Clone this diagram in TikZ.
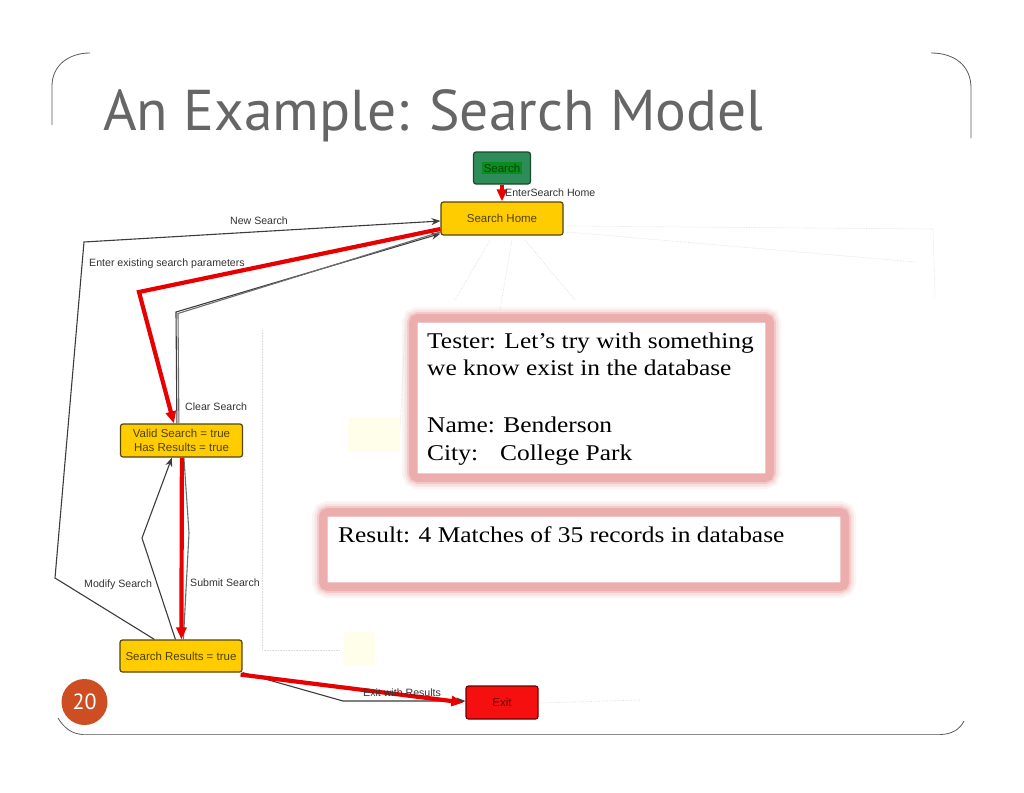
\documentclass[tikz,border=0pt]{standalone}
\usepackage{fontspec}
\newfontfamily\arialf{Liberation Sans}
\newfontfamily\titlef{PT Sans}
\newfontfamily\bookf[FakeStretch=1.13]{Liberation Serif}
\usetikzlibrary{arrows.meta}
\definecolor{gold}{RGB}{255,204,0}
\definecolor{goldborder}{RGB}{85,68,10}
\definecolor{goldtext}{RGB}{80,65,15}
\definecolor{exitred}{RGB}{245,15,15}
\definecolor{exitborder}{RGB}{110,0,0}
\definecolor{exittext}{RGB}{110,0,0}
\definecolor{seagreen}{RGB}{46,140,88}
\definecolor{greenborder}{RGB}{25,75,45}
\definecolor{hlgreen}{RGB}{10,140,30}
\definecolor{greentext}{RGB}{0,70,10}
\definecolor{arrowred}{RGB}{232,0,0}
\definecolor{linegrey}{RGB}{60,60,60}
\definecolor{titlegrey}{RGB}{102,102,102}
\definecolor{pageorange}{RGB}{205,78,35}
\definecolor{glowred}{RGB}{225,120,120}
\definecolor{framec}{RGB}{90,90,90}
\definecolor{ghost}{RGB}{220,220,220}
\tikzset{
  state/.style={draw=goldborder, fill=gold, rounded corners=2.5pt, line width=1.2pt,
    minimum width=122pt, minimum height=33pt, inner sep=0pt, align=center,
    font=\arialf\fontsize{11.5}{14.5}\selectfont, text=goldtext},
  redarrow/.style={draw=arrowred, line width=4.2pt, -{Triangle[length=12pt,width=10pt]}},
  thinarrow/.style={draw=linegrey, line width=1.1pt, -{Stealth[length=9pt,width=7pt]}},
  thinline/.style={draw=linegrey!75, line width=1.1pt},
  elabel/.style={font=\arialf\fontsize{10.6}{12}\selectfont, text=black!80, inner sep=0pt},
  boxtext/.style={font=\bookf\fontsize{22.5}{27}\selectfont, text=black, inner sep=0pt, anchor=base west},
  ghostline/.style={draw=ghost, line width=0.6pt, densely dotted},
}
\begin{document}
\begin{tikzpicture}[x=1pt,y=-1pt]
\useasboundingbox (0,0) rectangle (1024,792);
\fill[white] (0,0) rectangle (1024,792);

% faint background ghost diagram
\draw[ghostline] (567,226) -- (933,229) -- (935,297);
\draw[ghostline] (567,232) -- (915,262);
\draw[ghostline] (262,330) -- (262,650) -- (340,650);
\draw[ghostline] (490,240) -- (455,300);
\draw[ghostline] (512,240) -- (500,310);
\draw[ghostline] (525,240) -- (575,300);
\draw[ghostline] (400,430) -- (405,330);
\fill[yellow!8] (348,418) rectangle (400,452);
\fill[yellow!8] (344,632) rectangle (375,665);
\draw[ghostline] (540,703) -- (640,700);

% frame
\draw[framec, line width=0.8pt] (52,125) -- (52,86) .. controls (52,66) and (68,53) .. (90,53);
\draw[framec, line width=0.8pt] (931,53) .. controls (955,53) and (971,66) .. (971,88) -- (971,138);
\draw[black!45, line width=1.6pt] (83,734.5) -- (940,734.5);
\draw[framec, line width=0.8pt] (58,718) .. controls (64,728) and (72,734) .. (83,734.5);
\draw[framec, line width=0.8pt] (940,734.5) .. controls (952,734.5) and (960,729) .. (964,721);

% title
\node[anchor=base west, inner sep=0pt, font=\titlef\fontsize{57.5}{60}\selectfont, text=titlegrey] (title) at (103,130) {An Example: Search Model};

% state nodes
\node[state, fill=seagreen, draw=greenborder, minimum width=57pt, minimum height=32pt] (search) at (502,168) {};
\node[fill=hlgreen, inner sep=1.5pt, text=greentext, font=\arialf\fontsize{11.5}{13}\selectfont] (searchlbl) at (search) {Search};
\node[state] (home) at (502,218.5) {Search Home};
\node[state] (valid) at (181.5,440.5) {Valid Search = true\\Has Results = true};
\node[state, minimum height=32pt] (results) at (181,656) {Search Results = true};
\node[state, fill=exitred, draw=exitborder, text=exittext, minimum width=72pt] (exit) at (502,702.5) {Exit};

% waypoints
\coordinate (nsA) at (55,578);
\coordinate (nsB) at (84,242);
\coordinate (enA) at (139,292);
\coordinate (clA) at (176,312);
\coordinate (moA) at (142,538);
\coordinate (suA) at (189,533);
\coordinate (exA) at (343,701);

% thin grey/black connectors
\draw[thinarrow] ([xshift=35pt]results.north west) -- (nsA) -- (nsB) -- ([yshift=-2.5pt]home.west);
\draw[thinarrow] ([xshift=57pt]valid.north west) -- (clA) -- ([yshift=2pt]home.south west);
\draw[thinline] ([xshift=59pt]valid.north west) -- ([xshift=2pt,yshift=-1.5pt]clA) -- ([xshift=1pt,yshift=4pt]home.south west);
\draw[thinarrow] ([xshift=56pt]results.north west) -- (moA) -- ([xshift=52pt]valid.south west);
\draw[thinline] ([xshift=64pt]valid.south west) -- (suA) -- ([xshift=64pt]results.north west);
\draw[thinarrow] (results.south east) -- (exA) -- ([yshift=1.5pt]exit.west);

% red connectors
\draw[redarrow] (search) -- (home);
\draw[redarrow] ([yshift=-10.5pt]home.west) -- (enA) -- ([xshift=54pt]valid.north west);
\draw[redarrow] ([xshift=62pt]valid.south west) -- ([xshift=62pt]results.north west);
\draw[redarrow] ([yshift=-2pt,xshift=-2pt]results.south east) -- ([xshift=-2pt]exit.west);

% edge labels
\node[elabel, anchor=west] (lblenter) at (505,193) {EnterSearch Home};
\node[elabel] (lblnew) at (259,221) {New Search};
\node[elabel, anchor=west] (lblexist) at (89,264) {Enter existing search parameters};
\node[elabel, anchor=west] (lblclear) at (185,407) {Clear Search};
\node[elabel, anchor=west] (lblmodify) at (84,585) {Modify Search};
\node[elabel, anchor=west] (lblsubmit) at (190,583) {Submit Search};
\node[elabel, anchor=west] (lblexit) at (363,693) {Exit with Results};

% glowing note boxes
\foreach \w/\o in {22/0.08, 17/0.14, 12/0.22, 8/0.35} {
  \draw[glowred, line width=\w pt, opacity=\o, rounded corners=5pt] (413,318) rectangle (770,478);
  \draw[glowred, line width=\w pt, opacity=\o, rounded corners=5pt] (323,512) rectangle (845,587);
}
\fill[white] (418,323) rectangle (765,473);
\fill[white] (328,517) rectangle (840,582);

\node[boxtext] (t1) at (427,348) {Tester: Let’s try with something};
\node[boxtext] (t2) at (427,375) {we know exist in the database};
\node[boxtext] (t3) at (427,432) {Name: Benderson};
\node[boxtext] (t4) at (427,460) {City:};
\node[boxtext] (t5) at (500,460) {College Park};
\node[boxtext] (t6) at (338,542) {Result: 4 Matches of 35 records in database};

% page number
\node[circle, fill=pageorange, minimum size=46pt, inner sep=0pt, text=white, font=\titlef\fontsize{22}{22}\selectfont] (page) at (84.5,702) {20};
\end{tikzpicture}
\end{document}
